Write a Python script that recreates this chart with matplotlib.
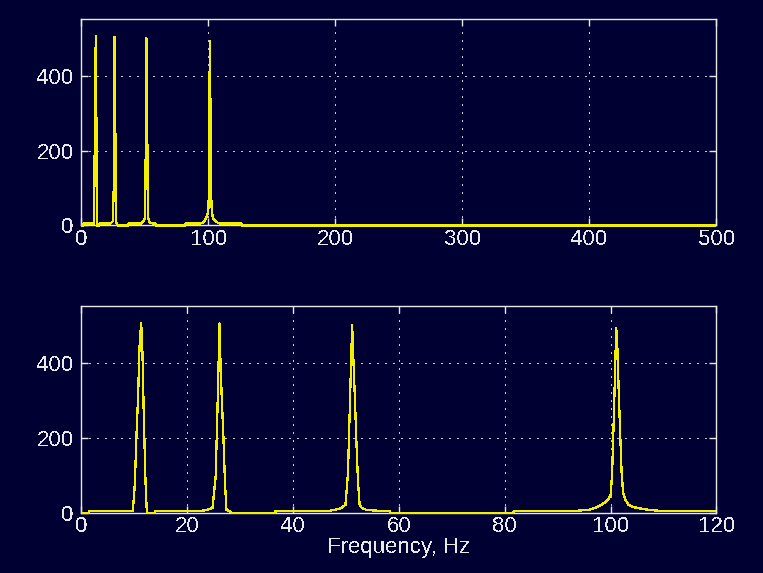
import matplotlib
matplotlib.use("Agg")
import matplotlib.pyplot as plt
from matplotlib.transforms import Bbox, TransformedBbox

# ---- data ----
freq_hz = [0.0, 1.4, 1.5, 9.7, 10.08, 10.39, 10.71, 10.96, 11.28, 11.53, 11.78, 12.09, 12.35,
           13.9, 14.0, 22.7, 23.43, 24.75, 25.35, 25.67, 25.95, 26.08, 26.17, 26.49, 26.83,
           27.12, 27.4, 27.97, 28.4, 36.6, 36.7, 46.7, 47.68, 49.07, 49.89, 50.36, 50.67,
           50.99, 51.15, 51.3, 51.62, 51.93, 52.25, 52.56, 53.03, 53.98, 56.5, 58.3, 58.4,
           81.6, 81.7, 93.5, 96.0, 97.1, 98.0, 98.9, 99.7, 100.05, 100.31, 100.63, 100.91,
           101.06, 101.29, 101.51, 101.79, 102.07, 102.36, 102.8, 103.4, 104.06, 105.3,
           107.5, 109.4, 126.0, 126.1, 500.0]
magnitude = [0, 0, 5, 5, 76, 205, 317, 440, 506, 423, 252, 85, 0,
             0, 5, 5, 7, 12, 96, 261, 421, 505, 443, 314, 198,
             78, 7, 5, 0, 0, 5, 5, 7, 12, 21, 105, 261,
             421, 501, 438, 323, 198, 83, 21, 12, 7, 5, 5, 0,
             0, 5, 5, 8, 13, 19, 27, 38, 50, 118, 269, 416,
             492, 434, 332, 216, 109, 52, 34, 21, 16, 12,
             7, 5, 5, 0, 0]

top_xticks = [0, 100, 200, 300, 400, 500]
bottom_xticks = [0, 20, 40, 60, 80, 100, 120]
yticks = [0, 200, 400]
xlabel_text = "Frequency, Hz"

BG = "#000033"
plt.rcParams["font.family"] = ["Liberation Sans", "DejaVu Sans"]
plt.rcParams["text.antialiased"] = False

fig = plt.figure(figsize=(7.63, 5.73), dpi=100, facecolor=BG)
ax1 = fig.add_axes([0.1068, 0.6065, 0.8322, 0.3609])
ax2 = fig.add_axes([0.1068, 0.1052, 0.8322, 0.3613])

specs = [(ax1, (0, 500), 553, top_xticks), (ax2, (0, 120), 552, bottom_xticks)]
for ax, xl, ytop, xt in specs:
    ax.set_facecolor(BG)
    line, = ax.plot(freq_hz, magnitude, color="#f0f000", lw=0.9,
                    antialiased=False, zorder=3)
    line.set_clip_box(TransformedBbox(Bbox([[0, -0.05], [1, 1.05]]), ax.transAxes))
    ax.set_xlim(*xl)
    ax.set_ylim(0, ytop)
    ax.set_xticks(xt)
    ax.set_xticklabels([str(v) for v in xt])
    ax.set_yticks(yticks)
    ax.set_yticklabels([str(v) for v in yticks])
    ax.grid(True, color="#c8c8c8", linestyle=(0, (1, 5)), lw=1.0, antialiased=False)
    ax.set_axisbelow(True)
    ax.tick_params(direction="in", length=5, width=1, colors="#e8e8e8",
                   top=True, right=True, labelsize=16)
    ax.tick_params(axis="x", pad=2.5)
    ax.tick_params(axis="y", pad=5.5)
    for sp in ax.spines.values():
        sp.set_color("#e8e8e8")
        sp.set_linewidth(1.0)

ax2.set_xlabel(xlabel_text, color="#e8e8e8", fontsize=16, labelpad=0)

fig.savefig("out.png", dpi=100, facecolor=BG)
